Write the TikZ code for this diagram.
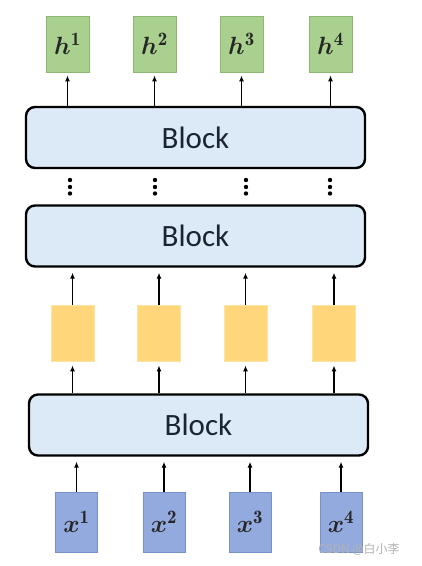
\documentclass[tikz,border=0pt]{standalone}
\usepackage{amsmath,amssymb,bm}
\usepackage{fontspec}
\setsansfont{Carlito}
\newfontfamily\cjkfont{Noto Sans CJK SC}
\usepackage{xcolor}
\usetikzlibrary{positioning,arrows.meta,calc}
\definecolor{BLKfill}{HTML}{DCE9F6}
\definecolor{BLKtext}{HTML}{1A2433}
\definecolor{OUTfill}{HTML}{A9D08E}
\definecolor{OUTline}{HTML}{8DB873}
\definecolor{MIDfill}{HTML}{FFD77A}
\definecolor{MIDline}{HTML}{FCE4A4}
\definecolor{INfill}{HTML}{93AADE}
\definecolor{INline}{HTML}{7891C9}
\definecolor{WMgray}{HTML}{B4B4B4}
\tikzset{
  blockbox/.style={rounded corners=9pt, draw=black, line width=2.4pt, fill=BLKfill, minimum width=339pt, minimum height=61pt, font=\sffamily\fontsize{31}{36}\selectfont, text=BLKtext},
  outbox/.style={draw=OUTline, fill=OUTfill, line width=0.8pt, minimum width=43pt, minimum height=56pt, inner sep=0pt, font=\fontsize{27}{30}\selectfont, text=black!85},
  midbox/.style={draw=MIDline, fill=MIDfill, line width=0.8pt, minimum width=43pt, minimum height=56pt, inner sep=0pt},
  inbox/.style={draw=INline, fill=INfill, line width=0.8pt, minimum width=42pt, minimum height=60pt, inner sep=0pt, font=\fontsize{27}{30}\selectfont, text=black!85},
  uparr/.style={-{Latex[length=6pt,width=5pt]}, line width=1.6pt, draw=black},
  vdot/.style={circle, fill=black, inner sep=0pt, minimum size=4.4pt}
}

\begin{document}
\begin{tikzpicture}[x=1pt, y=-1pt]
      \useasboundingbox[fill=white] (0,0) rectangle (422,566);
      % three blocks
      \node[blockbox] (blkC) at (195.5,137.5) {Block};
      \node[blockbox] (blkB) at (195.5,236) {Block};
      \node[blockbox] (blkA) at (198.5,425) {Block};
      % outputs
      \node[outbox] (hA) at (67.5,44) {$\bm{h}^{\mathbf{1}}$};
      \node[outbox] (hB) at (154.5,44) {$\bm{h}^{\mathbf{2}}$};
      \node[outbox] (hC) at (241.5,44) {$\bm{h}^{\mathbf{3}}$};
      \node[outbox] (hD) at (330.5,44) {$\bm{h}^{\mathbf{4}}$};
      \draw[uparr, shorten >=3pt] (hA.south |- blkC.north) -- (hA.south);
      \draw[uparr, shorten >=3pt] (hB.south |- blkC.north) -- (hB.south);
      \draw[uparr, shorten >=3pt] (hC.south |- blkC.north) -- (hC.south);
      \draw[uparr, shorten >=3pt] (hD.south |- blkC.north) -- (hD.south);
      % dots between blocks
      \foreach \px in {70,155,246,330} {
        \node[vdot] at (\px,180) {};
        \node[vdot] at (\px,187) {};
        \node[vdot] at (\px,193.5) {};
      }
      % intermediate
      \node[midbox] (mA) at (72.5,333) {};
      \node[midbox] (mB) at (159,333) {};
      \node[midbox] (mC) at (245.5,333) {};
      \node[midbox] (mD) at (334,333) {};
      \draw[uparr, shorten >=5pt] (mA.north) -- (mA.north |- blkB.south);
      \draw[uparr, shorten >=5pt] (mB.north) -- (mB.north |- blkB.south);
      \draw[uparr, shorten >=5pt] (mC.north) -- (mC.north |- blkB.south);
      \draw[uparr, shorten >=5pt] (mD.north) -- (mD.north |- blkB.south);
      \draw[uparr, shorten >=4pt] (mA.south |- blkA.north) -- (mA.south);
      \draw[uparr, shorten >=4pt] (mB.south |- blkA.north) -- (mB.south);
      \draw[uparr, shorten >=4pt] (mC.south |- blkA.north) -- (mC.south);
      \draw[uparr, shorten >=4pt] (mD.south |- blkA.north) -- (mD.south);
      % inputs
      \node[inbox] (xA) at (76.5,522) {$\bm{x}^{\mathbf{1}}$};
      \node[inbox] (xB) at (164,522) {$\bm{x}^{\mathbf{2}}$};
      \node[inbox] (xC) at (250,522) {$\bm{x}^{\mathbf{3}}$};
      \node[inbox] (xD) at (341,522) {$\bm{x}^{\mathbf{4}}$};
      \draw[uparr, shorten >=5pt] (xA.north) -- (xA.north |- blkA.south);
      \draw[uparr, shorten >=5pt] (xB.north) -- (xB.north |- blkA.south);
      \draw[uparr, shorten >=5pt] (xC.north) -- (xC.north |- blkA.south);
      \draw[uparr, shorten >=5pt] (xD.north) -- (xD.north |- blkA.south);
      % watermark
      \node[text=WMgray, font=\cjkfont\fontsize{12}{14}\selectfont] (wm) at (359,549) {CSDN @白小李};
    \end{tikzpicture}
\end{document}
